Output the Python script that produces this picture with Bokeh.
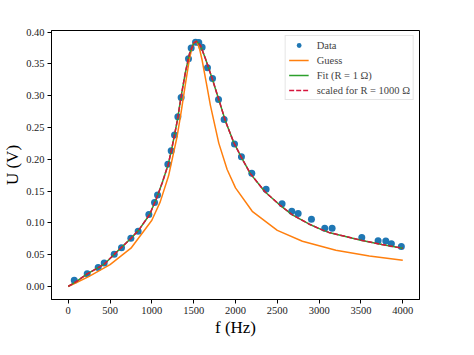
from bokeh.plotting import figure
from bokeh.models import FixedTicker, NumeralTickFormatter, Range1d
from bokeh.embed import file_html
from bokeh.resources import INLINE

# measured data (Hz, V)
f_data = [72, 227, 358, 430, 550, 637, 749, 836, 964, 1032, 1068, 1191, 1231, 1271,
          1311, 1350, 1438, 1470, 1522, 1561, 1601, 1665, 1725, 1797, 1864, 1988,
          2071, 2195, 2366, 2557, 2673, 2749, 2908, 3067, 3155, 3510, 3705, 3797,
          3864, 3983]
u_data = [0.0099, 0.020, 0.030, 0.037, 0.0507, 0.061, 0.076, 0.087, 0.113, 0.132,
          0.144, 0.192, 0.2135, 0.238, 0.267, 0.297, 0.358, 0.375, 0.384, 0.3835,
          0.376, 0.344, 0.327, 0.294, 0.2625, 0.224, 0.204, 0.178, 0.153, 0.130,
          0.1184, 0.1148, 0.1055, 0.0915, 0.0915, 0.077, 0.072, 0.0714, 0.0672, 0.063]

# guess curve
f_guess = [0, 100, 250, 500, 750, 1000, 1100, 1200, 1300, 1350, 1400, 1450, 1480,
           1500, 1522, 1545, 1570, 1600, 1650, 1700, 1800, 1900, 2000, 2200, 2500,
           2800, 3200, 3600, 4000]
u_guess = [0.0, 0.0062, 0.0158, 0.0344, 0.0602, 0.1042, 0.133, 0.174, 0.2346, 0.274,
           0.3175, 0.3581, 0.3757, 0.3829, 0.3856, 0.3827, 0.3736, 0.3565, 0.321,
           0.2848, 0.2254, 0.184, 0.155, 0.1182, 0.0882, 0.0710, 0.0569, 0.0478, 0.0414]

# fitted curve
f_fit = [0, 100, 227, 430, 546, 650, 757, 845, 972, 1056, 1124, 1196, 1243, 1303,
         1350, 1402, 1450, 1502, 1534, 1582, 1641, 1721, 1801, 1880, 1980, 2080,
         2180, 2352, 2539, 2680, 2877, 3035, 3116, 3513, 3750, 4000]
u_fit = [0.0, 0.008, 0.0197, 0.035, 0.050, 0.063, 0.0766, 0.089, 0.1127, 0.1386,
         0.163, 0.192, 0.220, 0.260, 0.2988, 0.3375, 0.366, 0.383, 0.3856, 0.379,
         0.358, 0.327, 0.2936, 0.260, 0.226, 0.2006, 0.177, 0.149, 0.127, 0.1127,
         0.0983, 0.089, 0.085, 0.0724, 0.066, 0.060]

# scaled curve for R = 1000 Ohm (coincides with fit)
f_scaled = list(f_fit)
u_scaled = [0.0, 0.008, 0.0197, 0.035, 0.050, 0.063, 0.0766, 0.089, 0.1127, 0.1386,
            0.163, 0.192, 0.220, 0.260, 0.2988, 0.3375, 0.366, 0.383, 0.3856, 0.379,
            0.358, 0.327, 0.2936, 0.260, 0.226, 0.2006, 0.177, 0.149, 0.127, 0.1127,
            0.0983, 0.089, 0.085, 0.0724, 0.066, 0.060]

x_ticks = [0, 500, 1000, 1500, 2000, 2500, 3000, 3500, 4000]
y_ticks = [0.0, 0.05, 0.10, 0.15, 0.20, 0.25, 0.30, 0.35, 0.40]

SERIF = "Liberation Serif"

p = figure(width=458, height=339, output_backend="svg", toolbar_location=None,
           x_range=Range1d(-200, 4200), y_range=Range1d(-0.0205, 0.4025),
           min_border_left=51, min_border_right=39, min_border_top=30,
           min_border_bottom=36)

p.scatter(f_data, u_data, size=7, color="#1f77b4", line_color=None, legend_label="Data")
p.line(f_guess, u_guess, line_color="#ff7f0e", line_width=1.5, legend_label="Guess")
p.line(f_fit, u_fit, line_color="#2ca02c", line_width=1.5, legend_label="Fit (R = 1 Ω)")
p.line(f_scaled, u_scaled, line_color="#d6143c", line_width=1.5, line_dash="5 2",
       legend_label="scaled for R = 1000 Ω")

p.grid.visible = False
p.outline_line_color = "black"
p.outline_line_width = 1
p.background_fill_color = "white"

for ax in (p.xaxis[0], p.yaxis[0]):
    ax.axis_line_color = "black"
    ax.major_tick_in = 0
    ax.major_tick_out = 4
    ax.minor_tick_line_color = None
    ax.major_label_text_font = SERIF
    ax.major_label_text_font_size = "10.5px"
    ax.major_label_text_color = "#222222"
    ax.major_label_standoff = 3
    ax.axis_label_text_font = SERIF
    ax.axis_label_text_font_size = "17px"
    ax.axis_label_text_font_style = "normal"
    ax.axis_label_text_color = "black"

p.xaxis.axis_label = "f (Hz)"
p.yaxis.axis_label = "U (V)"
p.xaxis.axis_label_standoff = 1
p.yaxis.axis_label_standoff = 1

p.xaxis.ticker = FixedTicker(ticks=x_ticks)
p.yaxis.ticker = FixedTicker(ticks=y_ticks)
p.yaxis.formatter = NumeralTickFormatter(format="0.00")

lg = p.legend[0]
lg.location = "top_right"
lg.margin = 5
lg.padding = 3
lg.spacing = 3
lg.label_height = 12
lg.glyph_height = 12
lg.glyph_width = 20
lg.label_standoff = 8
lg.label_text_font = SERIF
lg.label_text_font_size = "10.5px"
lg.border_line_color = "#cccccc"
lg.background_fill_alpha = 0.8

open("out.html", "w").write(file_html(p, INLINE))
